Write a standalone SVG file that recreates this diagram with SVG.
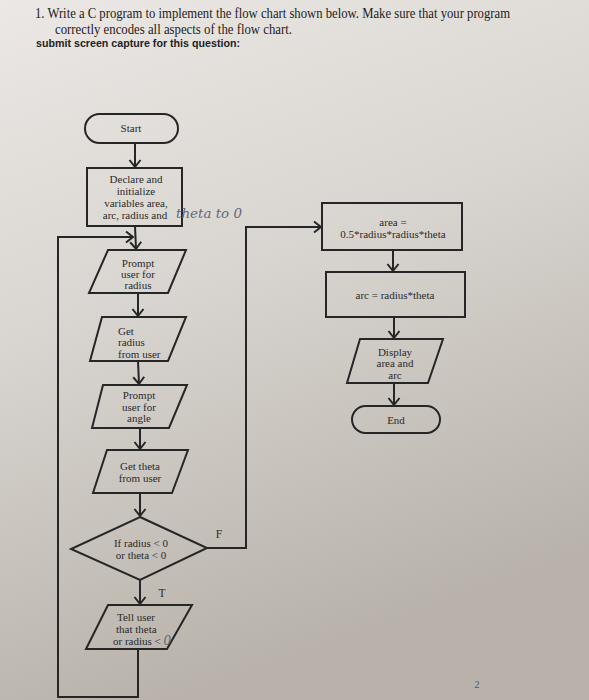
<svg xmlns="http://www.w3.org/2000/svg" width="589" height="700" viewBox="0 0 589 700">
<defs>
<linearGradient id="paper" x1="0" y1="0" x2="0.3" y2="1">
<stop offset="0" stop-color="#ebe8e5"/>
<stop offset="0.45" stop-color="#d9d5d0"/>
<stop offset="1" stop-color="#b8b2aa"/>
</linearGradient>
<marker id="arr" markerWidth="14" markerHeight="14" refX="0" refY="0" viewBox="-8 -7 10 14" markerUnits="userSpaceOnUse" orient="auto" overflow="visible">
<path d="M-7,-5.5 L0,0 L-7,5.5" fill="none" stroke="#262626" stroke-width="2"/>
</marker>
</defs>
<style>
.shape{fill:none;stroke:#262626;stroke-width:2}
.conn{fill:none;stroke:#262626;stroke-width:2}
.t{font-family:"Liberation Serif","Times New Roman",serif;font-size:11px;fill:#2b2b2b;text-anchor:middle}
.ts{font-family:"Liberation Serif","Times New Roman",serif;font-size:11px;fill:#2b2b2b;text-anchor:start}
.hw{font-family:"DejaVu Serif",serif;font-style:italic;fill:#646977}
.hdr{font-family:"Liberation Serif","Times New Roman",serif;font-size:14.5px;fill:#222}
.hdrb{font-family:"Liberation Sans",Arial,sans-serif;font-size:11.5px;font-weight:bold;fill:#222}
</style>
<rect x="0" y="0" width="589" height="700" fill="url(#paper)"/>

<g id="header">
<text class="hdr" x="35" y="18" textLength="475" lengthAdjust="spacingAndGlyphs">1. Write a C program to implement the flow chart shown below.  Make sure that your program</text>
<text class="hdr" x="55" y="34" textLength="237" lengthAdjust="spacingAndGlyphs">correctly encodes all aspects of the flow chart.</text>
<text class="hdrb" x="36" y="46.5" textLength="204" lengthAdjust="spacingAndGlyphs">submit screen capture for this question:</text>
</g>

<g id="connectors">
<path class="conn" d="M135,143 L135,167" marker-end="url(#arr)"/>
<path class="conn" d="M135,226 L136,249" marker-end="url(#arr)"/>
<path class="conn" d="M138,649 L138,697 L58,697 L58,237 L133,237" marker-end="url(#arr)"/>
<path class="conn" d="M138,293 L138,316" marker-end="url(#arr)"/>
<path class="conn" d="M138,361 L139,384" marker-end="url(#arr)"/>
<path class="conn" d="M140,428 L140,449" marker-end="url(#arr)"/>
<path class="conn" d="M140,493 L140,516" marker-end="url(#arr)"/>
<path class="conn" d="M140,580 L140,604" marker-end="url(#arr)"/>
<path class="conn" d="M207,548 L246,548 L246,227 L321,227" marker-end="url(#arr)"/>
<path class="conn" d="M393,250 L393,271" marker-end="url(#arr)"/>
<path class="conn" d="M394,317 L394,338" marker-end="url(#arr)"/>
<path class="conn" d="M394,383 L394,405" marker-end="url(#arr)"/>
<text class="t" x="219" y="538" style="font-size:11.5px">F</text>
<text class="t" x="162" y="597" style="font-size:11.5px">T</text>
</g>

<g id="start">
<rect class="shape" x="85" y="114" width="93" height="29" rx="14.5"/>
<text class="t" x="131" y="131.5">Start</text>
</g>

<g id="declare">
<rect class="shape" x="87" y="168" width="95" height="58"/>
<text class="t" x="136" y="183">Declare and</text>
<text class="t" x="136" y="194.5">initialize</text>
<text class="t" x="136" y="206.5">variables area,</text>
<text class="t" x="135" y="218.5">arc, radius and</text>
<text class="hw" x="176" y="218" font-size="12.5" textLength="66" lengthAdjust="spacingAndGlyphs">theta to 0</text>
</g>

<g id="prompt-radius">
<polygon class="shape" points="108,250 186,250 168,293 89,293"/>
<text class="t" x="138" y="266.5">Prompt</text>
<text class="t" x="138" y="278">user for</text>
<text class="t" x="138" y="289">radius</text>
</g>

<g id="get-radius">
<polygon class="shape" points="102,317 186,317 168,361 90,361"/>
<text class="ts" x="118" y="335">Get</text>
<text class="ts" x="118" y="346">radius</text>
<text class="ts" x="118" y="357.5">from user</text>
</g>

<g id="prompt-angle">
<polygon class="shape" points="103,385 187,385 169,428 92,428"/>
<text class="t" x="139" y="399">Prompt</text>
<text class="t" x="139" y="411">user for</text>
<text class="t" x="139" y="422">angle</text>
</g>

<g id="get-theta">
<polygon class="shape" points="107,450 188,450 172,493 93,493"/>
<text class="t" x="140" y="469.5">Get theta</text>
<text class="t" x="140" y="481.5">from user</text>
</g>

<g id="decision">
<polygon class="shape" points="140,517 207,548 140,580 71,549"/>
<text class="t" x="141" y="546.5">If radius &lt; 0</text>
<text class="t" x="141" y="558.5">or theta &lt; 0</text>
</g>

<g id="tell-user">
<polygon class="shape" points="108,605 192,605 167,649 86,649"/>
<text class="ts" x="117" y="620.5">Tell user</text>
<text class="ts" x="116" y="632.5">that theta</text>
<text class="ts" x="113" y="644.5">or radius &lt; <tspan class="hw" font-size="12">0</tspan></text>
</g>

<g id="area">
<rect class="shape" x="322" y="203" width="140" height="47"/>
<text class="t" x="393" y="225.5">area =</text>
<text class="t" x="393" y="237.5">0.5*radius*radius*theta</text>
</g>

<g id="arc">
<rect class="shape" x="326" y="272" width="139" height="45"/>
<text class="t" x="395" y="298.5">arc = radius*theta</text>
</g>

<g id="display">
<polygon class="shape" points="360,339 443,339 428,383 347,383"/>
<text class="t" x="395" y="355.5">Display</text>
<text class="t" x="395" y="366.5">area and</text>
<text class="t" x="395" y="378.5">arc</text>
</g>

<g id="end">
<rect class="shape" x="352" y="406" width="88" height="27" rx="13.5"/>
<text class="t" x="396" y="423.5">End</text>
</g>

<text class="t" x="477" y="688" style="font-size:10px;fill:#555">2</text>
</svg>
